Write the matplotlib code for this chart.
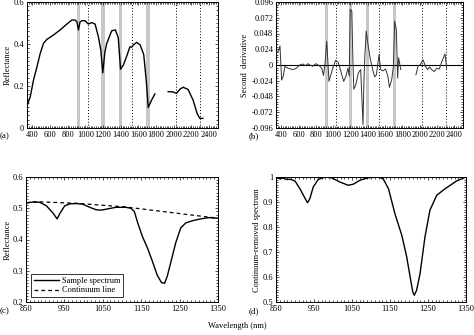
import matplotlib
matplotlib.use("Agg")
import matplotlib.pyplot as plt
from matplotlib.ticker import MultipleLocator, FuncFormatter

plt.rcParams['font.family'] = ['Liberation Serif', 'DejaVu Serif']
plt.rcParams['font.size'] = 6

# ---- Panel (a): reflectance spectrum (two segments) ----
a_wl1 = [340, 377, 414, 453, 490, 527, 565, 640, 715, 791, 847, 884, 905, 922,
         940, 960, 997, 1034, 1073, 1110, 1147, 1175, 1197, 1220, 1242, 1298, 1340,
         1372, 1398, 1430, 1470, 1504, 1525, 1541, 1580, 1620, 1660, 1690, 1711, 1749, 1786]
a_rf1 = [0.105, 0.149, 0.229, 0.292, 0.356, 0.403, 0.422, 0.443, 0.467, 0.495, 0.514, 0.514, 0.505, 0.467,
         0.505, 0.511, 0.511, 0.495, 0.502, 0.495, 0.435, 0.37, 0.263, 0.36, 0.403, 0.463, 0.467,
         0.43, 0.28, 0.30, 0.345, 0.387, 0.385, 0.395, 0.408, 0.395, 0.35, 0.22, 0.098, 0.133, 0.162]
a_wl2 = [1936, 1990, 2030, 2070, 2105, 2161, 2218, 2263, 2293, 2330]
a_rf2 = [0.173, 0.172, 0.165, 0.185, 0.194, 0.184, 0.133, 0.07, 0.046, 0.046]

band_centers = [922, 1200, 1399, 1707]
band_width = 40
dotted_lines = [1034, 1527, 2030, 2301]

# ---- Panel (b): second derivative (two segments) ----
b_wl1 = [341, 367, 386, 405, 424, 443, 480, 537, 575, 613, 650, 680, 707, 733, 763, 801,
         839, 869, 888, 907, 926, 952, 971, 990, 1028, 1058, 1084, 1122, 1148, 1171, 1186,
         1197, 1216, 1228, 1239, 1262, 1292, 1318, 1345, 1356, 1367, 1382, 1405, 1431, 1462,
         1481, 1499, 1518, 1530, 1548, 1575, 1605, 1632, 1650, 1677, 1696, 1711, 1730, 1745,
         1756, 1782]
b_d1 = [0.019, 0.021, 0.029, -0.023, -0.017, -0.002, -0.005, -0.007, -0.005, 0.0, 0.0015, -0.001,
        0.002, 0.0, -0.002, 0.002, -0.001, -0.005, -0.016, 0.003, 0.036, -0.025, -0.016, -0.007,
        0.007, 0.004, -0.007, -0.025, -0.017, -0.005, -0.017, 0.085, 0.082, 0.008, -0.037, -0.030,
        -0.012, -0.007, -0.091, -0.022, 0.016, 0.052, 0.029, 0.008, -0.010, -0.018, -0.015, 0.003,
        0.016, -0.007, -0.009, -0.006, -0.017, -0.034, -0.022, -0.002, 0.067, 0.054, -0.020,
        0.011, -0.007]
b_wl2 = [1956, 1979, 2009, 2039, 2066, 2092, 2115, 2137, 2167, 2198, 2227, 2258, 2292, 2311]
b_d2 = [-0.015, -0.002, 0.001, 0.008, -0.002, -0.007, -0.003, -0.007, -0.010, -0.005, -0.006,
        0.006, 0.017, -0.005]

# ---- Panel (c): sample spectrum and continuum line ----
c_wl = [850, 869, 886, 903, 920, 931, 939, 951, 964, 981, 998, 1016, 1033, 1046, 1063, 1084,
        1110, 1123, 1132, 1141, 1153, 1166, 1179, 1192, 1203, 1211, 1218, 1229, 1240, 1253,
        1266, 1283, 1305, 1326, 1350]
c_rf = [0.517, 0.52, 0.519, 0.508, 0.485, 0.466, 0.485, 0.508, 0.514, 0.515, 0.513, 0.503,
        0.495, 0.494, 0.498, 0.503, 0.503, 0.5, 0.49, 0.453, 0.41, 0.374, 0.331, 0.285, 0.262,
        0.26, 0.283, 0.336, 0.39, 0.437, 0.453, 0.46, 0.466, 0.47, 0.468]
cont_wl = [850, 875, 980, 1110, 1350]
cont_rf = [0.517, 0.521, 0.516, 0.504, 0.468]

# ---- Panel (d): continuum-removed spectrum ----
d_wl = [850, 860, 869, 878, 887, 900, 913, 927, 933, 939, 948, 961, 979, 996, 1018, 1040,
        1053, 1071, 1093, 1119, 1132, 1146, 1163, 1181, 1194, 1203, 1210, 1214, 1220, 1229,
        1242, 1255, 1273, 1295, 1325, 1350]
d_cr = [0.997, 0.993, 0.996, 0.99, 0.991, 0.984, 0.953, 0.913, 0.897, 0.913, 0.96, 0.99, 1.0,
        0.997, 0.98, 0.967, 0.971, 0.987, 0.997, 1.0, 0.993, 0.953, 0.853, 0.767, 0.68, 0.6,
        0.54, 0.527, 0.547, 0.613, 0.76, 0.867, 0.927, 0.953, 0.984, 1.0]

full_ticks = [400, 600, 800, 1000, 1200, 1400, 1600, 1800, 2000, 2200, 2400]
zoom_ticks = [850, 950, 1050, 1150, 1250, 1350]

W, H = 474, 335
fig = plt.figure(figsize=(W / 100, H / 100), dpi=100)


def ax_at(x0, y0, x1, y1):
    return fig.add_axes([x0 / W, 1 - y1 / H, (x1 - x0) / W, (y1 - y0) / H])


fmt = FuncFormatter(lambda v, p: '%g' % round(v, 4))


def style(ax):
    ax.tick_params(which='both', direction='in', top=True, right=True, labelsize=6,
                   pad=2, width=0.5)
    ax.tick_params(which='major', length=2.5)
    ax.tick_params(which='minor', length=1.2)
    for s in ax.spines.values():
        s.set_linewidth(0.7)
    ax.yaxis.set_major_formatter(fmt)


axa = ax_at(27, 2, 218, 128)
axb = ax_at(276, 2, 463, 128)
axc = ax_at(26, 177, 218, 302)
axd = ax_at(276, 177, 466, 302)

for ax in (axa, axb):
    for bc in band_centers:
        ax.axvspan(bc - band_width / 2, bc + band_width / 2, color='#c8c8c8', lw=0, zorder=0)
    for dl in dotted_lines:
        ax.axvline(dl, color='black', ls=(0, (1, 2)), lw=0.7, zorder=1)
    ax.set_xlim(340, 2500)
    ax.set_xticks(full_ticks)
    ax.xaxis.set_minor_locator(MultipleLocator(20))

axa.plot(a_wl1, a_rf1, color='black', lw=1.0, zorder=3)
axa.plot(a_wl2, a_rf2, color='black', lw=1.0, zorder=3)
axa.set_ylim(0, 0.6)
axa.yaxis.set_major_locator(MultipleLocator(0.2))
axa.yaxis.set_minor_locator(MultipleLocator(0.02))
style(axa)

axb.axhline(0, color='black', lw=0.8, zorder=2)
axb.plot(b_wl1, b_d1, color='#333333', lw=0.7, zorder=3)
axb.plot(b_wl2, b_d2, color='#333333', lw=0.7, zorder=3)
axb.set_ylim(-0.096, 0.096)
axb.yaxis.set_major_locator(MultipleLocator(0.024))
axb.yaxis.set_minor_locator(MultipleLocator(0.004))
style(axb)

axc.plot(c_wl, c_rf, color='black', lw=1.0, label='Sample spectrum')
axc.plot(cont_wl, cont_rf, color='black', lw=0.9, ls=(0, (3, 2.5)), label='Continuum line')
axc.set_xlim(850, 1350)
axc.set_ylim(0.2, 0.6)
axc.set_xticks(zoom_ticks)
axc.xaxis.set_minor_locator(MultipleLocator(10))
axc.yaxis.set_major_locator(MultipleLocator(0.1))
axc.yaxis.set_minor_locator(MultipleLocator(0.01))
style(axc)
leg = axc.legend(loc='lower left', fontsize=6, frameon=True, fancybox=False,
                 edgecolor='black', handlelength=3.0, borderpad=0.3, labelspacing=0.2,
                 handletextpad=0.4, borderaxespad=0.6)
leg.get_frame().set_linewidth(0.7)

axd.plot(d_wl, d_cr, color='black', lw=1.0)
axd.set_xlim(850, 1350)
axd.set_ylim(0.5, 1.0)
axd.set_xticks(zoom_ticks)
axd.xaxis.set_minor_locator(MultipleLocator(10))
axd.yaxis.set_major_locator(MultipleLocator(0.1))
axd.yaxis.set_minor_locator(MultipleLocator(0.01))
style(axd)

# axis labels and panel letters
fig.text(8 / W, 1 - 65 / H, 'Reflectance', rotation=90, ha='center', va='center', fontsize=6)
fig.text(245 / W, 1 - 65 / H, 'Second  derivative', rotation=90, ha='center', va='center', fontsize=6)
fig.text(8 / W, 1 - 240 / H, 'Reflectance', rotation=90, ha='center', va='center', fontsize=6)
fig.text(257 / W, 1 - 240 / H, 'Continuum-removed spectrum', rotation=90, ha='center', va='center', fontsize=6)
fig.text(237 / W, 1 - 326 / H, 'Wavelength (nm)', ha='center', va='center', fontsize=6)
fig.text(0 / W, 1 - 136 / H, '(a)', ha='left', va='center', fontsize=6.5)
fig.text(249 / W, 1 - 136 / H, '(b)', ha='left', va='center', fontsize=6.5)
fig.text(0 / W, 1 - 311 / H, '(c)', ha='left', va='center', fontsize=6.5)
fig.text(249 / W, 1 - 311 / H, '(d)', ha='left', va='center', fontsize=6.5)

fig.savefig('out.png', dpi=100)
